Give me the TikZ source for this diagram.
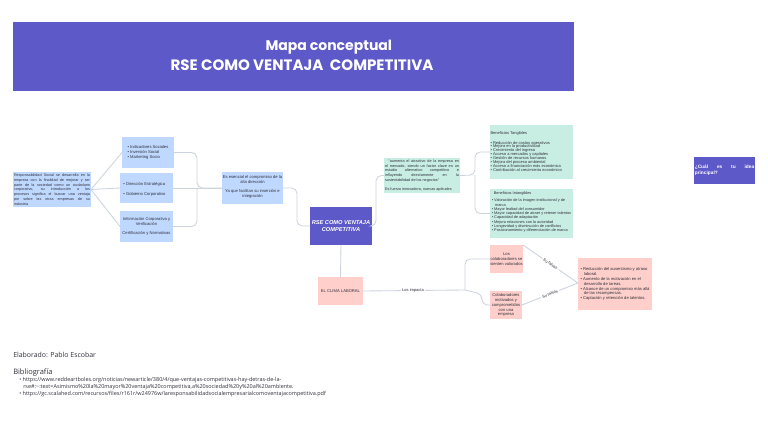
\documentclass[tikz,border=0pt]{standalone}
\usepackage{fontspec}
\setmainfont{Liberation Sans}
\newfontfamily\titlefont{Poppins}
\newfontfamily\footfont{Open Sans}
\definecolor{violetbox}{HTML}{5D59C8}
\definecolor{bluebox}{HTML}{BFD8FF}
\definecolor{greenbox}{HTML}{C8EEE4}
\definecolor{pinkbox}{HTML}{FFCFCB}
\definecolor{linkcol}{HTML}{CDD4DE}
\definecolor{inkcol}{HTML}{30303A}
\newcommand{\tiptext}{\fontsize{3.1}{3.7}\selectfont}
\newcommand{\bu}{\textbullet\ }
\newcommand{\jl}[2]{\makebox[#1][s]{#2}\\}
\tikzset{
 x=0.75pt,y=-0.75pt,
 boxbase/.style={inner sep=0pt,outer sep=0pt,anchor=center,align=center,text=inkcol,font=\tiptext},
 link/.style={draw=linkcol,line width=0.65pt,rounded corners=4pt},
 lab/.style={font=\fontsize{3}{3.4}\selectfont,text=inkcol,fill=white,inner sep=1pt},
}
% box from corner to corner: \pbox{name}{x0}{y0}{x1}{y1}{colour}{node options}{text}
\newcommand{\pbox}[8]{%
 \path[fill=#6] (#2,#3) rectangle (#4,#5);
 \pgfmathsetmacro{\boxw}{(#4-#2)*0.75}
 \pgfmathsetmacro{\boxh}{(#5-#3)*0.75}
 \node[boxbase,minimum width=\boxw pt,minimum height=\boxh pt] (#1) at ({(#2+#4)/2},{(#3+#5)/2}) {};
 \node[boxbase,#7] at (#1.center) {#8};
}
\begin{document}
\begin{tikzpicture}
\useasboundingbox[fill=white] (0,0) rectangle (768,431);
% title
\pbox{title}{13}{22}{574}{91}{violetbox}{yshift=1.1pt,text=white,font=\titlefont\bfseries}{\hspace*{53pt}\fontsize{10.5}{16.5}\selectfont Mapa conceptual\\[3pt]\hspace*{12.8pt}\fontsize{11.3}{16.5}\selectfont RSE COMO VENTAJA\ \ COMPETITIVA}
% boxes
\pbox{resp}{13}{172}{91}{207}{bluebox}{font=\fontsize{2.8}{3.55}\selectfont,align=left}{\jl{57pt}{Responsabilidad Social se desarrolla en la}\jl{57pt}{empresa con la finalidad de mejorar y ser}\jl{57pt}{parte de la sociedad como un ciudadano}\jl{57pt}{corporativo, su introducción a los}\jl{57pt}{procesos significa el buscar una ventaja}\jl{57pt}{por sobre las otras empresas de su}industria}
\pbox{ind}{122}{137}{174}{168}{bluebox}{align=left}{\bu Indicadores Sociales\\\bu Inversión Social\\\bu Marketing Socio}
\pbox{dir}{120}{173}{173}{203}{bluebox}{align=left,xshift=-1.5pt,yshift=-1pt}{\bu Dirección Estratégica\\[3.5pt]\bu Gobierno Corporativo}
\pbox{info}{120}{211}{173}{242}{bluebox}{}{Información Corporativa y\\Verificación\\[3.5pt]Certificación y Normativas}
\pbox{esen}{222}{172}{283}{204}{bluebox}{yshift=0.8pt}{Es esencial el compromiso de la\\alta dirección\\[3.5pt]Ya que facilitan su inserción e\\integración}
\pbox{rse}{310}{207}{372}{245}{violetbox}{text=white,font=\fontsize{4.25}{5.6}\selectfont\itshape\bfseries}{RSE COMO VENTAJA\\COMPETITIVA}
\pbox{aum}{384}{158}{460}{193}{greenbox}{font=\fontsize{2.85}{3.4}\selectfont,align=left}{\jl{55.5pt}{\ \ “aumenta el atractivo de la empresa en}\jl{55.5pt}{el mercado, siendo un factor clave en un}\jl{55.5pt}{estudio alternativo competitivo e}\jl{55.5pt}{influyendo directamente en la}sustentabilidad de los negocios”\\[3.4pt]Es fuerza innovadora, nuevas aptitudes}
\pbox{tang}{490}{125}{573}{179}{greenbox}{align=left,font=\fontsize{3}{2.9}\selectfont,xshift=-4pt,yshift=0.3pt}{Beneficios Tangibles\\[4pt]\bu Reducción de costos operativos\\\bu Mejora en la productividad\\\bu Crecimiento del ingreso\\\bu Acceso a mercados y capitales\\\bu Gestión de recursos humanos\\\bu Mejora del proceso ambiental\\\bu Acceso a financiación más económica\\\bu Contribución al crecimiento económico}
\pbox{intang}{490}{189}{573}{238}{greenbox}{align=left,font=\fontsize{2.9}{3.2}\selectfont,yshift=1.2pt}{\hspace*{1.5pt}Beneficios Intangibles\\[2.5pt]\bu Valoración de la imagen institucional y de\\\ \ \ marca\\\bu Mayor lealtad del consumidor\\\bu Mayor capacidad de atraer y retener talentos\\\bu Capacidad de adaptación\\\bu Mejora relaciones con la autoridad\\\bu Longevidad y disminución de conflictos\\\bu Posicionamiento y diferenciación de marca}
\pbox{clima}{318}{277}{363}{305}{pinkbox}{}{EL CLIMA LABORAL}
\pbox{losc}{490}{245}{523}{273}{pinkbox}{}{Los\\colaboradores se\\sienten valorados}
\pbox{colab}{490}{291}{522}{319}{pinkbox}{}{Colaboradores\\motivados y\\comprometidos\\con una\\empresa}
\pbox{efect}{578}{258}{652}{310}{pinkbox}{align=left}{\bu Reducción del ausentismo y atraso\\\ \ \ laboral.\\\bu Aumento de la motivación en el\\\ \ \ desarrollo de tareas.\\\bu Alcance de un compromiso más allá\\\ \ \ de las recompensas.\\\bu Captación y retención de talentos.}
\pbox{idea}{694}{157}{755}{184}{violetbox}{text=white}{\begin{minipage}{44.5pt}\fontsize{3.6}{4.4}\selectfont\bfseries ¿Cuál\hfill es\hfill tu\hfill idea\\principal?\end{minipage}}
% connectors
\coordinate (ja) at (197,188);
\coordinate (jr) at (465,290);
\coordinate (jg) at (475,175);
\coordinate (jf) at (578,283);
\coordinate (jc) at (482,294);
\draw[link] (resp.east) -- (ind.west);
\draw[link] (resp.east) -- (dir.west);
\draw[link] (resp.east) -- (info.west);
\draw[link] (ind.east) -| (ja) -- (esen.west);
\draw[link] (dir.east) -- (esen.west);
\draw[link] (info.east) -| (ja);
\draw[link] (esen.east) -- ++(14,0) |- (rse.west);
\draw[link] (rse.east) -- ++(4,0) |- (aum.west);
\draw[link] (aum.east) -- (jg) |- (tang.west);
\draw[link] (jg) |- (intang.west);
\draw[link] (rse.south) -- (clima.north);
\draw[link] (clima.east) -- (jr) node[pos=0.49,lab] {Los impacta};
\draw[link] (jr) |- (losc.west);
\draw[link] (jr) -- (jc) |- (colab.west);
\draw[link] (losc.north east) -- (jf) node[pos=0.5,lab,sloped] {Su falsas};
\draw[link] (colab.east) -- (jf) node[pos=0.5,lab,sloped] {Su falsas};
% footer
\node[anchor=west,inner sep=0pt,text=inkcol,font=\footfont\fontsize{5.2}{6}\selectfont] (elab) at (13,354.5) {Elaborado: Pablo Escobar};
\node[anchor=west,inner sep=0pt,text=inkcol,font=\footfont\fontsize{5.6}{7}\selectfont] (bib) at (13,372.5) {Bibliografía};
\node[anchor=north west,inner sep=0pt,align=left,text=inkcol,font=\footfont\fontsize{4.1}{5.2}\selectfont] (refs) at (19,377.5) {\textbullet\ https://www.reddeartboles.org/noticias/newarticle/380/4/que-ventajas-competitivas-hay-detras-de-la-\\\hspace{3pt}rse\#:\textasciitilde:text=Asimismo\%20la\%20mayor\%20ventaja\%20competitiva,a\%20sociedad\%20y\%20al\%20ambiente.\\\textbullet\ https://gc.scalahed.com/recursos/files/r161r/w24976w/laresponsabilidadsocialempresarialcomoventajacompetitiva.pdf};
\end{tikzpicture}
\end{document}
